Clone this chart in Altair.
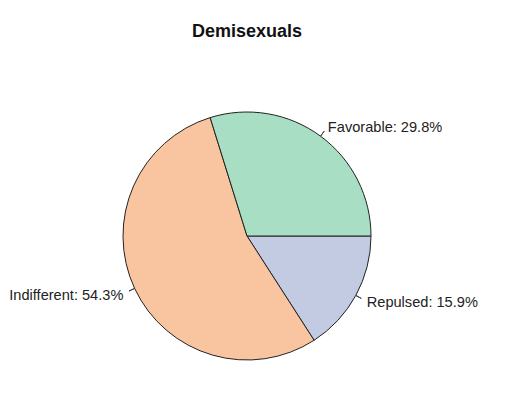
import altair as alt
import pandas as pd
import math

categories = ["Repulsed", "Indifferent", "Favorable"]
values = [15.9, 54.3, 29.8]
label_side = ["right", "left", "right"]
colors = ["#c3cbe3", "#f9c5a0", "#a8dec4"]

df = pd.DataFrame({
    "category": categories,
    "value": values,
    "side": label_side,
    "order": list(range(len(categories))),
})
df["label"] = [f"{c}: {v}%" for c, v in zip(categories, values)]

theta_scale = alt.Scale(domain=[0, 100], range=[math.pi / 2, math.pi / 2 + 2 * math.pi])
color_scale = alt.Scale(domain=categories, range=colors)

R = 124
CX, CY = 239, 188

base = alt.Chart(df).transform_window(
    cum="sum(value)", sort=[alt.SortField("order")]
).transform_calculate(
    start="datum.cum - datum.value",
    mid="datum.cum - datum.value / 2",
    mid2="datum.cum - datum.value / 2 + 0.01",
)

pie = base.mark_arc(stroke="#222222", strokeWidth=1, radius=R).encode(
    theta=alt.Theta("start:Q", scale=theta_scale),
    theta2="cum:Q",
    color=alt.Color("category:N", scale=color_scale, legend=None),
    x=alt.value(CX),
    y=alt.value(CY),
)

ticks = base.mark_arc(stroke="#444444", strokeWidth=1, radius=R, radius2=R * 1.05, fill=None).encode(
    theta=alt.Theta("mid:Q", scale=theta_scale),
    theta2="mid2:Q",
    x=alt.value(CX),
    y=alt.value(CY),
)

text_right = base.transform_filter(alt.datum.side == "right").mark_text(
    radius=R * 1.1, align="left", baseline="middle", fontSize=14.6, dy=2,
    font="Liberation Sans", color="#222222"
).encode(
    theta=alt.Theta("mid:Q", scale=theta_scale),
    text="label:N",
    x=alt.value(CX),
    y=alt.value(CY),
)

text_left = base.transform_filter(alt.datum.side == "left").mark_text(
    radius=R * 1.1, align="right", baseline="middle", fontSize=14.6, dy=2,
    font="Liberation Sans", color="#222222"
).encode(
    theta=alt.Theta("mid:Q", scale=theta_scale),
    text="label:N",
    x=alt.value(CX),
    y=alt.value(CY),
)

chart = alt.layer(pie, ticks, text_right, text_left).properties(
    width=478,
    height=340,
    title=alt.TitleParams(
        "Demisexuals", fontSize=18, fontWeight="bold", font="Liberation Sans",
        color="#111111", anchor="middle", offset=7,
    ),
    autosize=alt.AutoSizeParams(type="none"),
    padding={"left": 0, "right": 0, "top": 40, "bottom": 0},
).configure_view(stroke=None)

chart.save("out.html", embed_options={"renderer": "svg", "actions": False})
